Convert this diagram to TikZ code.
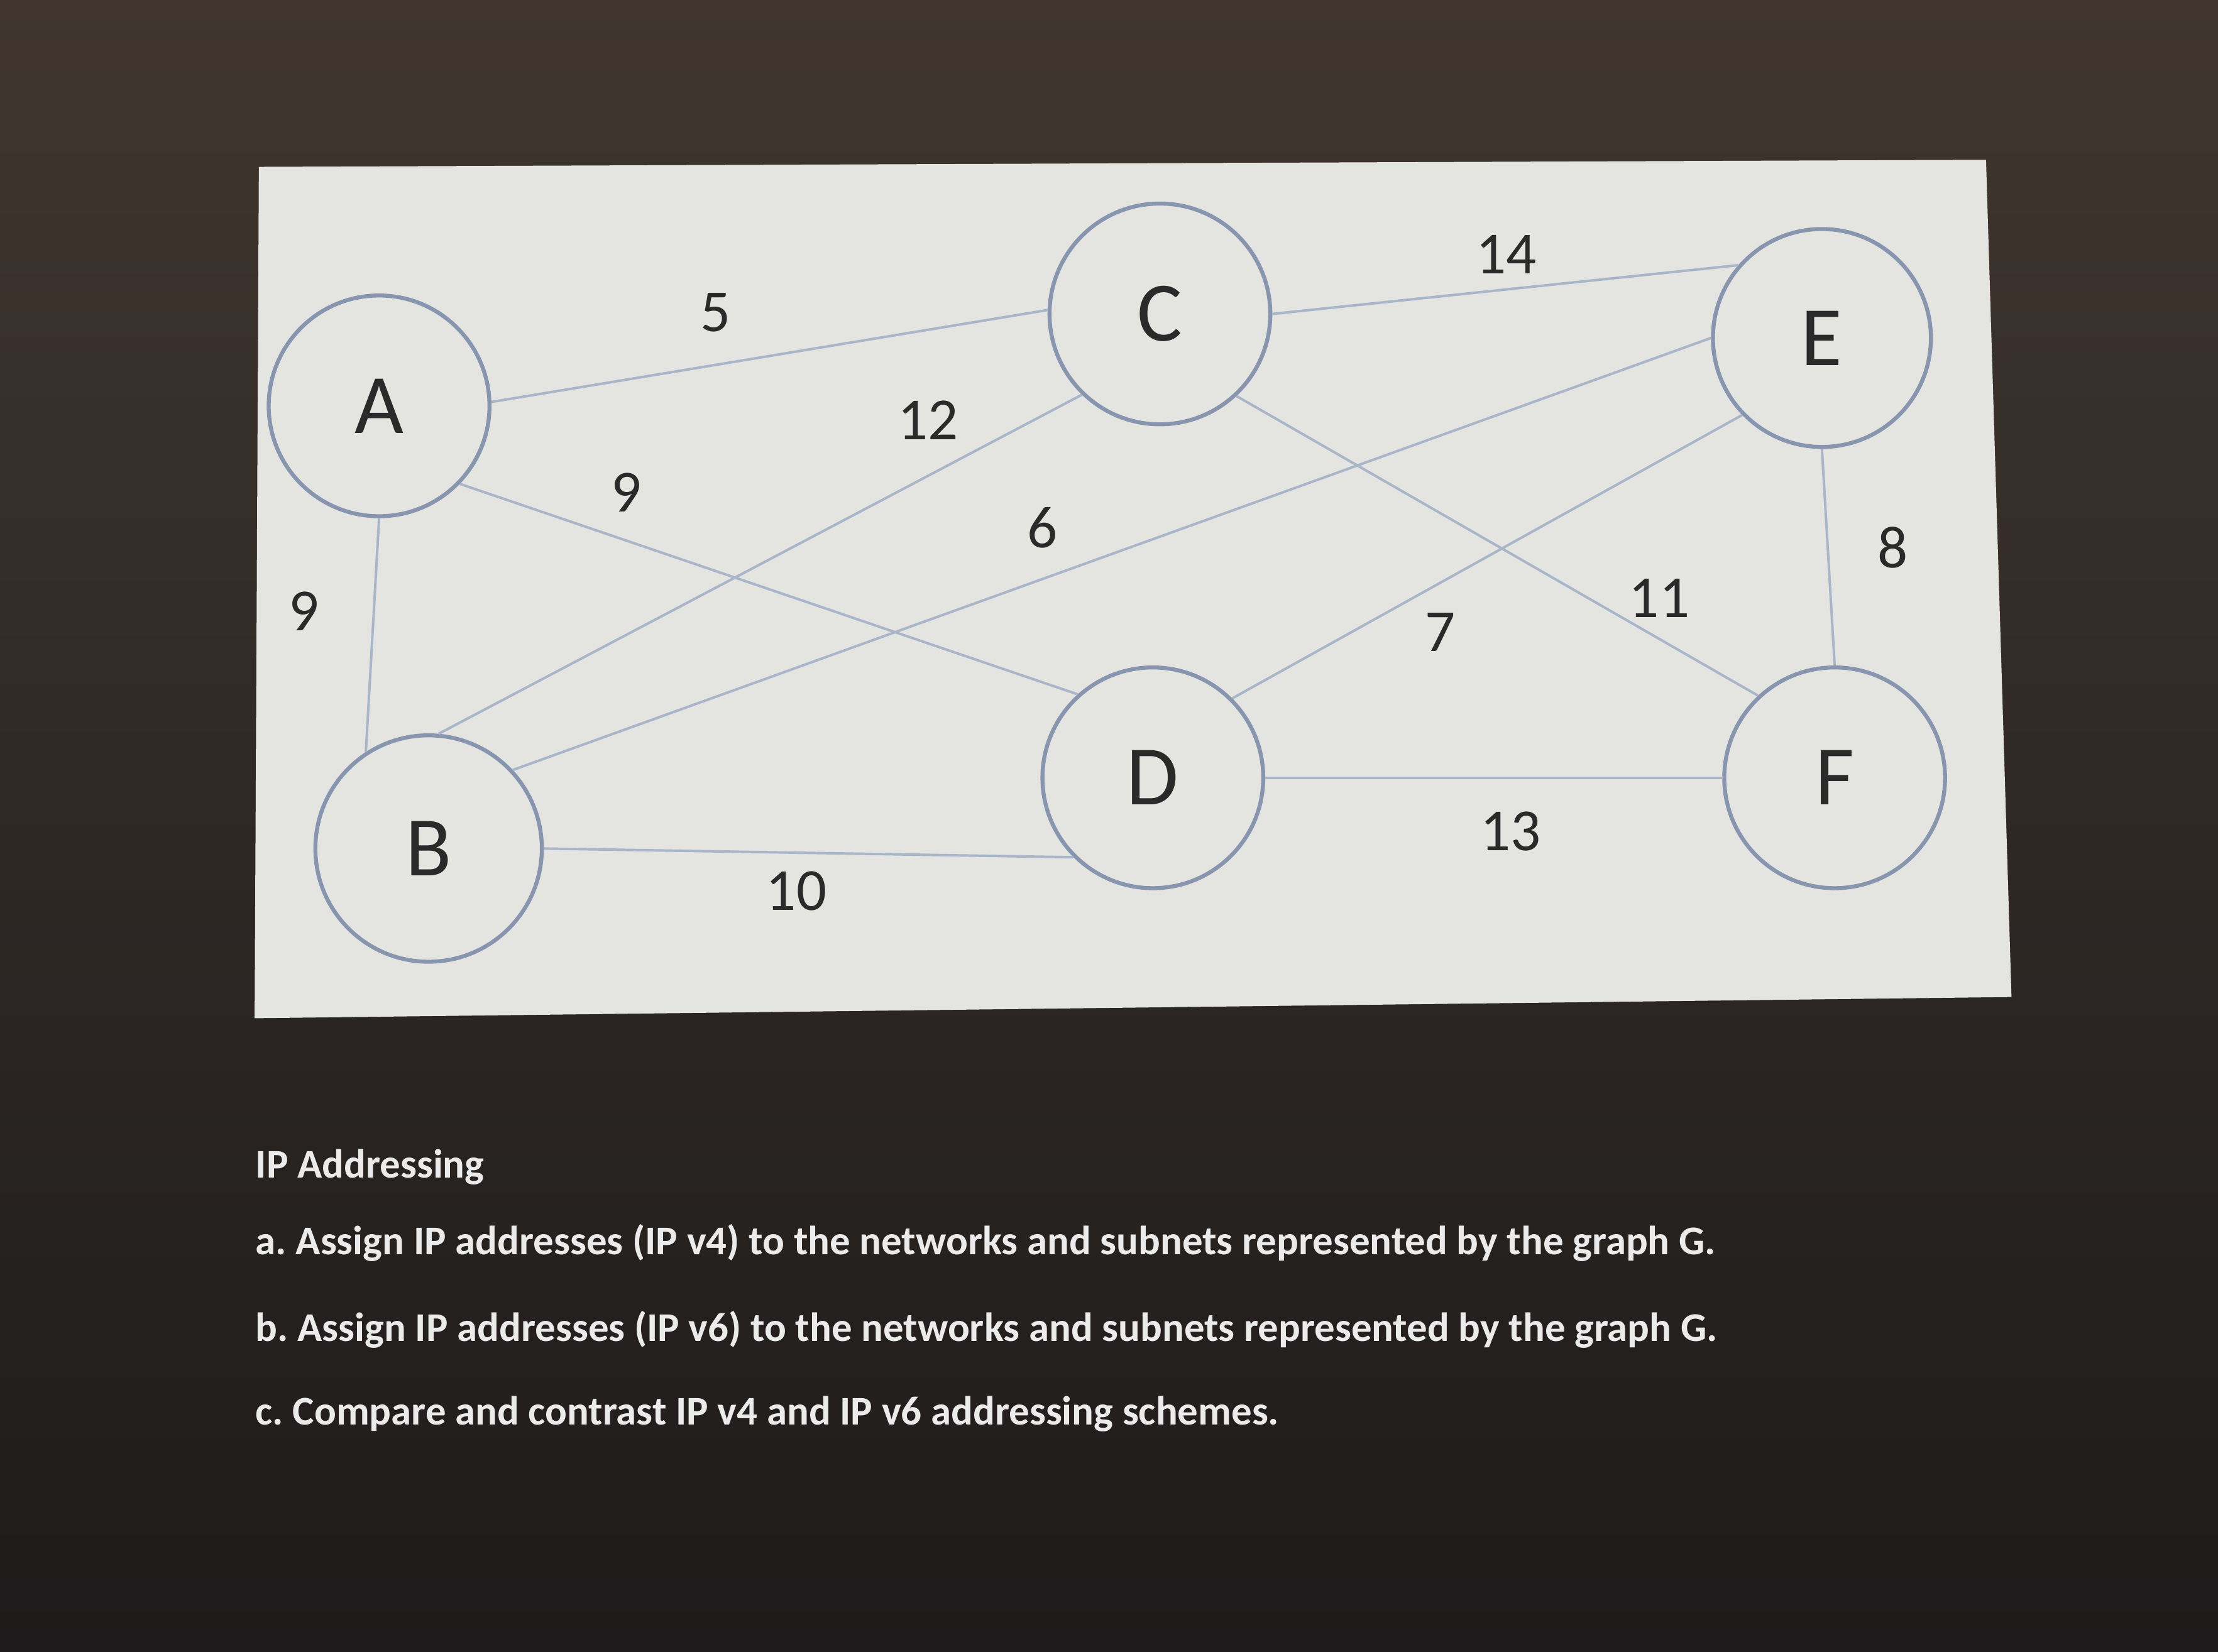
\documentclass[tikz,border=0pt]{standalone}
\usepackage{fontspec}
\setmainfont{Carlito}
\usepackage{xcolor}
\usepackage{tikz}
\usetikzlibrary{shadings}
\definecolor{panelgrey}{HTML}{E4E4E0}
\definecolor{ringblue}{HTML}{8796AE}
\definecolor{edgeblue}{HTML}{A9B5C9}
\definecolor{inkgrey}{HTML}{2A2A2A}
\definecolor{screentop}{HTML}{40362F}
\definecolor{screenbot}{HTML}{1D1B1B}
\frenchspacing

\begin{document}
\begin{tikzpicture}[x=0.01cm,y=-0.01cm,
  vtx/.style={circle,draw=ringblue,line width=0.8pt,fill=panelgrey,minimum size=1.56cm,inner sep=0pt,text=inkgrey,font=\fontsize{17pt}{20pt}\selectfont},
  wt/.style={text=inkgrey,font=\fontsize{12pt}{14pt}\selectfont},
  link/.style={draw=edgeblue,line width=0.5pt},
  task/.style={anchor=west,inner sep=0pt,text=white!92!black,font=\bfseries\fontsize{8.2pt}{10pt}\selectfont}]
\useasboundingbox (0,0) rectangle (1568,1168);
\shade[top color=screentop,bottom color=screenbot] (0,0) rectangle (1568,1168);
\fill[panelgrey] (183,118) -- (1404,113) -- (1422,705) -- (180,720) -- cycle;

  \node[vtx] at (268,287) (A){A};
  \node[vtx,minimum size=1.6cm] at (303,600) (B){B};
  \node[vtx] at (820,222) (C){C};
  \node[vtx] at (815,550) (D){D};
  \node[vtx,minimum size=1.54cm] at (1288,239) (E){E};
  \node[vtx] at (1297,550) (F){F};

  \draw[link] (A.2) -- (C.178);
  \draw[link] (A.270) -- (B.123);
  \draw[link] (A.316) -- (D.132);
  \draw[link] (B.85) -- (C.226);
  \draw[link] (B.43) -- (E.180);
  \draw[link] (B.0) -- (D.225);
  \draw[link] (C.0) -- (E.139);
  \draw[link] (C.313) -- (F.133);
  \draw[link] (D.45) -- (E.224);
  \draw[link] (D.0) -- (F.180);
  \draw[link] (E.south) -- (F.north);

  \node[wt] at (506,221) (wAC){5};
  \node[wt] at (215,432) (wAB){9};
  \node[wt] at (443,348) (wAD){9};
  \node[wt] at (656,297) (wBC){12};
  \node[wt] at (737,373) (wBE){6};
  \node[wt] at (563,630) (wBD){10};
  \node[wt] at (1065,180) (wCE){14};
  \node[wt] at (1173,423) (wCF){11};
  \node[wt] at (1018,447) (wDE){7};
  \node[wt] at (1068,588) (wDF){13};
  \node[wt] at (1338,387) (wEF){8};

  \node[task] at (180,825) (head){IP Addressing};
  \node[task] at (180,879) (qa){a. Assign IP addresses (IP v4) to the networks and subnets represented by the graph G.};
  \node[task] at (180,940) (qb){b. Assign IP addresses (IP v6) to the networks and subnets represented by the graph G.};
  \node[task] at (180,1000) (qc){c. Compare and contrast IP v4 and IP v6 addressing schemes.};

\end{tikzpicture}
\end{document}
